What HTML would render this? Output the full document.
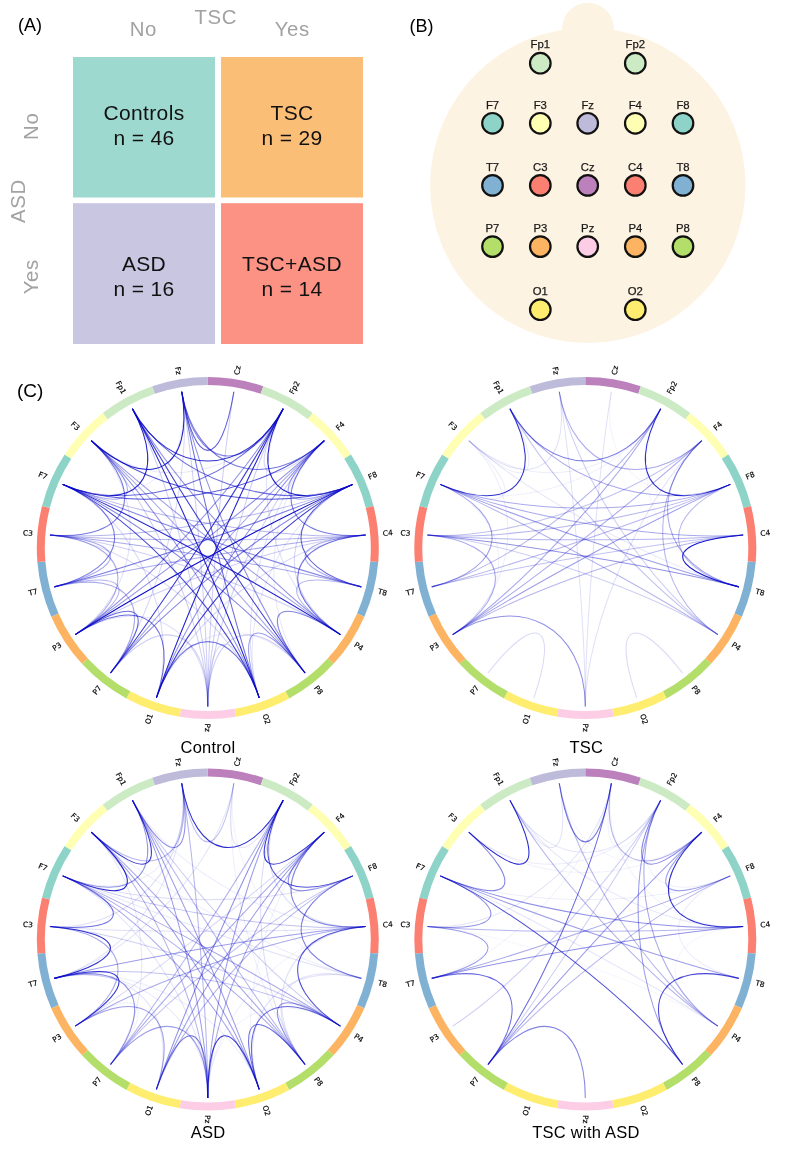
<!DOCTYPE html>
<html><head><meta charset="utf-8"><title>Figure</title>
<style>
html,body{margin:0;padding:0;background:#fff;}
svg{display:block;}
.sans{font-family:"Liberation Sans",Arial,Helvetica,sans-serif;}
.lab text{font-family:"DejaVu Sans","Liberation Sans",sans-serif;font-size:7.4px;fill:#000;stroke:#000;stroke-width:0.18px;}
.ch path{fill:none;stroke:#0a0ac8;stroke-width:1.05;}
.el text{font-family:"Liberation Sans",sans-serif;font-size:11.3px;fill:#1a1a1a;stroke:#1a1a1a;stroke-width:0.25px;text-anchor:middle;}
.el circle{stroke:#111;stroke-width:2.2;}
</style></head><body>
<svg width="785" height="1151" viewBox="0 0 785 1151">
<rect width="785" height="1151" fill="#fff"/>
<g class="sans">
<text x="18" y="31" font-size="18" fill="#000">(A)</text>
<g font-size="20.4" fill="#a2a2a2" text-anchor="middle" letter-spacing="0.6">
<text x="143.4" y="36.4">No</text>
<text x="215.7" y="23.8">TSC</text>
<text x="292.2" y="36.4">Yes</text>
<text transform="translate(37.7 126.3) rotate(-90)">No</text>
<text transform="translate(24.5 201.1) rotate(-90)">ASD</text>
<text transform="translate(37.7 276.8) rotate(-90)">Yes</text>
</g>
<rect x="73" y="57" width="142" height="140.5" fill="#9ed9cf"/>
<rect x="221" y="57" width="142" height="140.5" fill="#fbbe76"/>
<rect x="73" y="203.2" width="142" height="140.8" fill="#c9c6e1"/>
<rect x="221" y="203.2" width="142" height="140.8" fill="#fc9284"/>
<g font-size="21" fill="#111" text-anchor="middle" letter-spacing="0.35">
<text x="144" y="119.8">Controls</text><text x="144" y="144.7">n = 46</text>
<text x="292" y="119.8">TSC</text><text x="292" y="144.7">n = 29</text>
<text x="144" y="271.2">ASD</text><text x="144" y="296.1">n = 16</text>
<text x="292" y="271.2">TSC+ASD</text><text x="292" y="296.1">n = 14</text>
</g>
</g>
<text class="sans" x="409.5" y="31.7" font-size="18" fill="#000">(B)</text>
<g fill="#fdf3e2"><circle cx="588" cy="28.5" r="25.8"/><circle cx="587.8" cy="185.3" r="157.7"/></g>
<g class="el">
<circle cx="540.3" cy="63.2" r="10.3" fill="#ccebc5"/><text x="540.3" y="48.4">Fp1</text>
<circle cx="635.3" cy="63.2" r="10.3" fill="#ccebc5"/><text x="635.3" y="48.4">Fp2</text>
<circle cx="492.5" cy="123.3" r="10.3" fill="#8dd3c7"/><text x="492.5" y="108.5">F7</text>
<circle cx="540.3" cy="123.3" r="10.3" fill="#ffffb3"/><text x="540.3" y="108.5">F3</text>
<circle cx="587.7" cy="123.3" r="10.3" fill="#bebada"/><text x="587.7" y="108.5">Fz</text>
<circle cx="635.3" cy="123.3" r="10.3" fill="#ffffb3"/><text x="635.3" y="108.5">F4</text>
<circle cx="683" cy="123.3" r="10.3" fill="#8dd3c7"/><text x="683" y="108.5">F8</text>
<circle cx="492.5" cy="185.4" r="10.3" fill="#80b1d3"/><text x="492.5" y="170.6">T7</text>
<circle cx="540.3" cy="185.4" r="10.3" fill="#fb8072"/><text x="540.3" y="170.6">C3</text>
<circle cx="587.7" cy="185.4" r="10.3" fill="#bc80bd"/><text x="587.7" y="170.6">Cz</text>
<circle cx="635.3" cy="185.4" r="10.3" fill="#fb8072"/><text x="635.3" y="170.6">C4</text>
<circle cx="683" cy="185.4" r="10.3" fill="#80b1d3"/><text x="683" y="170.6">T8</text>
<circle cx="492.5" cy="246.6" r="10.3" fill="#b3de69"/><text x="492.5" y="231.8">P7</text>
<circle cx="540.3" cy="246.6" r="10.3" fill="#fdb462"/><text x="540.3" y="231.8">P3</text>
<circle cx="587.7" cy="246.6" r="10.3" fill="#fccde5"/><text x="587.7" y="231.8">Pz</text>
<circle cx="635.3" cy="246.6" r="10.3" fill="#fdb462"/><text x="635.3" y="231.8">P4</text>
<circle cx="683" cy="246.6" r="10.3" fill="#b3de69"/><text x="683" y="231.8">P8</text>
<circle cx="540.3" cy="309.7" r="10.3" fill="#ffed6f"/><text x="540.3" y="294.9">O1</text>
<circle cx="635.3" cy="309.7" r="10.3" fill="#ffed6f"/><text x="635.3" y="294.9">O2</text>
</g>
<text class="sans" x="17" y="397.3" font-size="19" fill="#000">(C)</text>
<g class="ch">
<path d="M156.37 697.82C182.08 622.91 256.45 610.5 305.09 673" stroke-opacity="0.07"/>
<path d="M62.74 484.37C135.27 516.19 194.76 469.88 181.73 391.76" stroke-opacity="0.08"/>
<path d="M91.26 440.72C149.53 494.36 245.5 478.35 283.19 408.69" stroke-opacity="0.09"/>
<path d="M324.34 440.72C266.07 494.36 256.45 610.5 305.09 673" stroke-opacity="0.09"/>
<path d="M352.86 484.37C280.33 516.19 233.52 622.91 259.23 697.82" stroke-opacity="0.1"/>
<path d="M283.19 408.69C245.5 478.35 274.1 591.32 340.41 634.64" stroke-opacity="0.12"/>
<path d="M324.34 440.72C266.07 494.36 233.52 622.91 259.23 697.82" stroke-opacity="0.12"/>
<path d="M259.23 697.82C233.52 622.91 207.8 627.2 207.8 706.4" stroke-opacity="0.12"/>
<path d="M75.19 634.64C141.5 591.32 207.8 627.2 207.8 706.4" stroke-opacity="0.12"/>
<path d="M91.26 440.72C149.53 494.36 141.5 591.32 75.19 634.64" stroke-opacity="0.12"/>
<path d="M62.74 484.37C135.27 516.19 182.08 622.91 156.37 697.82" stroke-opacity="0.15"/>
<path d="M49.94 534.92C128.87 541.46 233.52 622.91 259.23 697.82" stroke-opacity="0.15"/>
<path d="M365.66 534.92C286.73 541.46 182.08 622.91 156.37 697.82" stroke-opacity="0.15"/>
<path d="M181.73 391.76C194.76 469.88 159.15 610.5 110.51 673" stroke-opacity="0.16"/>
<path d="M324.34 440.72C266.07 494.36 245.5 478.35 283.19 408.69" stroke-opacity="0.17"/>
<path d="M352.86 484.37C280.33 516.19 274.1 591.32 340.41 634.64" stroke-opacity="0.18"/>
<path d="M110.51 673C159.15 610.5 207.8 627.2 207.8 706.4" stroke-opacity="0.2"/>
<path d="M305.09 673C256.45 610.5 207.8 627.2 207.8 706.4" stroke-opacity="0.2"/>
<path d="M365.66 534.92C286.73 541.46 141.5 591.32 75.19 634.64" stroke-opacity="0.2"/>
<path d="M49.94 534.92C128.87 541.46 274.1 591.32 340.41 634.64" stroke-opacity="0.2"/>
<path d="M132.41 408.69C170.1 478.35 207.8 627.2 207.8 706.4" stroke-opacity="0.2"/>
<path d="M283.19 408.69C245.5 478.35 207.8 627.2 207.8 706.4" stroke-opacity="0.2"/>
<path d="M91.26 440.72C149.53 494.36 207.8 627.2 207.8 706.4" stroke-opacity="0.2"/>
<path d="M324.34 440.72C266.07 494.36 207.8 627.2 207.8 706.4" stroke-opacity="0.2"/>
<path d="M181.73 391.76C194.76 469.88 207.8 627.2 207.8 706.4" stroke-opacity="0.2"/>
<path d="M233.87 391.76C220.84 469.88 207.8 627.2 207.8 706.4" stroke-opacity="0.2"/>
<path d="M340.41 634.64C274.1 591.32 284.58 567.44 361.35 586.88" stroke-opacity="0.3"/>
<path d="M75.19 634.64C141.5 591.32 131.02 567.44 54.25 586.88" stroke-opacity="0.3"/>
<path d="M49.94 534.92C128.87 541.46 280.33 516.19 352.86 484.37" stroke-opacity="0.3"/>
<path d="M365.66 534.92C286.73 541.46 135.27 516.19 62.74 484.37" stroke-opacity="0.3"/>
<path d="M49.94 534.92C128.87 541.46 286.73 541.46 365.66 534.92" stroke-opacity="0.3"/>
<path d="M49.94 534.92C128.87 541.46 141.5 591.32 75.19 634.64" stroke-opacity="0.35"/>
<path d="M110.51 673C159.15 610.5 131.02 567.44 54.25 586.88" stroke-opacity="0.35"/>
<path d="M324.34 440.72C266.07 494.36 280.33 516.19 352.86 484.37" stroke-opacity="0.35"/>
<path d="M91.26 440.72C149.53 494.36 135.27 516.19 62.74 484.37" stroke-opacity="0.35"/>
<path d="M365.66 534.92C286.73 541.46 284.58 567.44 361.35 586.88" stroke-opacity="0.35"/>
<path d="M49.94 534.92C128.87 541.46 131.02 567.44 54.25 586.88" stroke-opacity="0.35"/>
<path d="M324.34 440.72C266.07 494.36 159.15 610.5 110.51 673" stroke-opacity="0.35"/>
<path d="M91.26 440.72C149.53 494.36 256.45 610.5 305.09 673" stroke-opacity="0.35"/>
<path d="M365.66 534.92C286.73 541.46 131.02 567.44 54.25 586.88" stroke-opacity="0.35"/>
<path d="M49.94 534.92C128.87 541.46 284.58 567.44 361.35 586.88" stroke-opacity="0.35"/>
<path d="M259.23 697.82C233.52 622.91 256.45 610.5 305.09 673" stroke-opacity="0.4"/>
<path d="M91.26 440.72C149.53 494.36 274.1 591.32 340.41 634.64" stroke-opacity="0.4"/>
<path d="M324.34 440.72C266.07 494.36 141.5 591.32 75.19 634.64" stroke-opacity="0.45"/>
<path d="M324.34 440.72C266.07 494.36 182.08 622.91 156.37 697.82" stroke-opacity="0.45"/>
<path d="M283.19 408.69C245.5 478.35 141.5 591.32 75.19 634.64" stroke-opacity="0.45"/>
<path d="M91.26 440.72C149.53 494.36 233.52 622.91 259.23 697.82" stroke-opacity="0.45"/>
<path d="M132.41 408.69C170.1 478.35 274.1 591.32 340.41 634.64" stroke-opacity="0.45"/>
<path d="M181.73 391.76C194.76 469.88 256.45 610.5 305.09 673" stroke-opacity="0.45"/>
<path d="M283.19 408.69C245.5 478.35 194.76 469.88 181.73 391.76" stroke-opacity="0.5"/>
<path d="M340.41 634.64C274.1 591.32 256.45 610.5 305.09 673" stroke-opacity="0.5"/>
<path d="M62.74 484.37C135.27 516.19 284.58 567.44 361.35 586.88" stroke-opacity="0.5"/>
<path d="M352.86 484.37C280.33 516.19 159.15 610.5 110.51 673" stroke-opacity="0.5"/>
<path d="M62.74 484.37C135.27 516.19 256.45 610.5 305.09 673" stroke-opacity="0.5"/>
<path d="M324.34 440.72C266.07 494.36 194.76 469.88 181.73 391.76" stroke-opacity="0.55"/>
<path d="M365.66 534.92C286.73 541.46 266.07 494.36 324.34 440.72" stroke-opacity="0.55"/>
<path d="M365.66 534.92C286.73 541.46 274.1 591.32 340.41 634.64" stroke-opacity="0.55"/>
<path d="M156.37 697.82C182.08 622.91 233.52 622.91 259.23 697.82" stroke-opacity="0.55"/>
<path d="M49.94 534.92C128.87 541.46 149.53 494.36 91.26 440.72" stroke-opacity="0.55"/>
<path d="M62.74 484.37C135.27 516.19 131.02 567.44 54.25 586.88" stroke-opacity="0.55"/>
<path d="M352.86 484.37C280.33 516.19 131.02 567.44 54.25 586.88" stroke-opacity="0.55"/>
<path d="M75.19 634.64C141.5 591.32 159.15 610.5 110.51 673" stroke-opacity="0.6"/>
<path d="M156.37 697.82C182.08 622.91 141.5 591.32 75.19 634.64" stroke-opacity="0.6"/>
<path d="M181.73 391.76C194.76 469.88 233.52 622.91 259.23 697.82" stroke-opacity="0.6"/>
<path d="M352.86 484.37C280.33 516.19 170.1 478.35 132.41 408.69" stroke-opacity="0.6"/>
<path d="M62.74 484.37C135.27 516.19 245.5 478.35 283.19 408.69" stroke-opacity="0.6"/>
<path d="M233.87 391.76C220.84 469.88 194.76 469.88 181.73 391.76" stroke-opacity="0.65"/>
<path d="M352.86 484.37C280.33 516.19 284.58 567.44 361.35 586.88" stroke-opacity="0.65"/>
<path d="M324.34 440.72C266.07 494.36 135.27 516.19 62.74 484.37" stroke-opacity="0.7"/>
<path d="M91.26 440.72C149.53 494.36 280.33 516.19 352.86 484.37" stroke-opacity="0.7"/>
<path d="M62.74 484.37C135.27 516.19 233.52 622.91 259.23 697.82" stroke-opacity="0.75"/>
<path d="M352.86 484.37C280.33 516.19 182.08 622.91 156.37 697.82" stroke-opacity="0.8"/>
<path d="M283.19 408.69C245.5 478.35 159.15 610.5 110.51 673" stroke-opacity="0.8"/>
<path d="M132.41 408.69C170.1 478.35 256.45 610.5 305.09 673" stroke-opacity="0.8"/>
<path d="M132.41 408.69C170.1 478.35 245.5 478.35 283.19 408.69" stroke-opacity="0.85"/>
<path d="M91.26 440.72C149.53 494.36 194.76 469.88 181.73 391.76" stroke-opacity="0.9"/>
<path d="M62.74 484.37C135.27 516.19 170.1 478.35 132.41 408.69" stroke-opacity="0.9"/>
<path d="M352.86 484.37C280.33 516.19 245.5 478.35 283.19 408.69" stroke-opacity="0.9"/>
<path d="M283.19 408.69C245.5 478.35 182.08 622.91 156.37 697.82" stroke-opacity="0.9"/>
<path d="M62.74 484.37C135.27 516.19 274.1 591.32 340.41 634.64" stroke-opacity="0.9"/>
<path d="M132.41 408.69C170.1 478.35 233.52 622.91 259.23 697.82" stroke-opacity="0.9"/>
<path d="M352.86 484.37C280.33 516.19 141.5 591.32 75.19 634.64" stroke-opacity="1"/>
</g>
<g>
<path d="M207.8 381A167 167 0 0 1 262.02 390.05" stroke="#bc80bd" stroke-width="8" fill="none"/>
<path d="M262.02 390.05A167 167 0 0 1 310.37 416.21" stroke="#ccebc5" stroke-width="8" fill="none"/>
<path d="M310.37 416.21A167 167 0 0 1 347.61 456.66" stroke="#ffffb3" stroke-width="8" fill="none"/>
<path d="M347.61 456.66A167 167 0 0 1 369.69 507" stroke="#8dd3c7" stroke-width="8" fill="none"/>
<path d="M369.69 507A167 167 0 0 1 374.23 561.79" stroke="#fb8072" stroke-width="8" fill="none"/>
<path d="M374.23 561.79A167 167 0 0 1 360.73 615.08" stroke="#80b1d3" stroke-width="8" fill="none"/>
<path d="M360.73 615.08A167 167 0 0 1 330.67 661.11" stroke="#fdb462" stroke-width="8" fill="none"/>
<path d="M330.67 661.11A167 167 0 0 1 287.28 694.87" stroke="#b3de69" stroke-width="8" fill="none"/>
<path d="M287.28 694.87A167 167 0 0 1 235.29 712.72" stroke="#ffed6f" stroke-width="8" fill="none"/>
<path d="M235.29 712.72A167 167 0 0 1 180.31 712.72" stroke="#fccde5" stroke-width="8" fill="none"/>
<path d="M180.31 712.72A167 167 0 0 1 128.32 694.87" stroke="#ffed6f" stroke-width="8" fill="none"/>
<path d="M128.32 694.87A167 167 0 0 1 84.93 661.11" stroke="#b3de69" stroke-width="8" fill="none"/>
<path d="M84.93 661.11A167 167 0 0 1 54.87 615.08" stroke="#fdb462" stroke-width="8" fill="none"/>
<path d="M54.87 615.08A167 167 0 0 1 41.37 561.79" stroke="#80b1d3" stroke-width="8" fill="none"/>
<path d="M41.37 561.79A167 167 0 0 1 45.91 507" stroke="#fb8072" stroke-width="8" fill="none"/>
<path d="M45.91 507A167 167 0 0 1 67.99 456.66" stroke="#8dd3c7" stroke-width="8" fill="none"/>
<path d="M67.99 456.66A167 167 0 0 1 105.23 416.21" stroke="#ffffb3" stroke-width="8" fill="none"/>
<path d="M105.23 416.21A167 167 0 0 1 153.58 390.05" stroke="#ccebc5" stroke-width="8" fill="none"/>
<path d="M153.58 390.05A167 167 0 0 1 207.8 381" stroke="#bebada" stroke-width="8" fill="none"/>
</g>
<g class="lab">
<text x="236.7" y="374.79" transform="rotate(-80.53 236.7 374.79)" text-anchor="start" dominant-baseline="central">Cz</text>
<text x="291.38" y="393.56" transform="rotate(-61.58 291.38 393.56)" text-anchor="start" dominant-baseline="central">Fp2</text>
<text x="336.99" y="429.07" transform="rotate(-42.63 336.99 429.07)" text-anchor="start" dominant-baseline="central">F4</text>
<text x="368.61" y="477.46" transform="rotate(-23.68 368.61 477.46)" text-anchor="start" dominant-baseline="central">F8</text>
<text x="382.8" y="533.5" transform="rotate(-4.74 382.8 533.5)" text-anchor="start" dominant-baseline="central">C4</text>
<text x="378.03" y="591.11" transform="rotate(14.21 378.03 591.11)" text-anchor="start" dominant-baseline="central">T8</text>
<text x="354.81" y="644.04" transform="rotate(33.16 354.81 644.04)" text-anchor="start" dominant-baseline="central">P4</text>
<text x="315.66" y="686.57" transform="rotate(52.11 315.66 686.57)" text-anchor="start" dominant-baseline="central">P8</text>
<text x="264.82" y="714.09" transform="rotate(71.05 264.82 714.09)" text-anchor="start" dominant-baseline="central">O2</text>
<text x="207.8" y="723.6" transform="rotate(90 207.8 723.6)" text-anchor="start" dominant-baseline="central">Pz</text>
<text x="150.78" y="714.09" transform="rotate(288.95 150.78 714.09)" text-anchor="end" dominant-baseline="central">O1</text>
<text x="99.94" y="686.57" transform="rotate(307.89 99.94 686.57)" text-anchor="end" dominant-baseline="central">P7</text>
<text x="60.79" y="644.04" transform="rotate(326.84 60.79 644.04)" text-anchor="end" dominant-baseline="central">P3</text>
<text x="37.57" y="591.11" transform="rotate(345.79 37.57 591.11)" text-anchor="end" dominant-baseline="central">T7</text>
<text x="32.8" y="533.5" transform="rotate(364.74 32.8 533.5)" text-anchor="end" dominant-baseline="central">C3</text>
<text x="46.99" y="477.46" transform="rotate(383.68 46.99 477.46)" text-anchor="end" dominant-baseline="central">F7</text>
<text x="78.61" y="429.07" transform="rotate(402.63 78.61 429.07)" text-anchor="end" dominant-baseline="central">F3</text>
<text x="124.22" y="393.56" transform="rotate(421.58 124.22 393.56)" text-anchor="end" dominant-baseline="central">Fp1</text>
<text x="178.9" y="374.79" transform="rotate(440.53 178.9 374.79)" text-anchor="end" dominant-baseline="central">Fz</text>
</g>
<g class="ch">
<path d="M660.69 408.69C623 478.35 662.08 567.44 738.85 586.88" stroke-opacity="0.04"/>
<path d="M611.37 391.76C598.34 469.88 657.83 516.19 730.36 484.37" stroke-opacity="0.05"/>
<path d="M440.24 484.37C512.77 516.19 623 478.35 660.69 408.69" stroke-opacity="0.06"/>
<path d="M440.24 484.37C512.77 516.19 519 591.32 452.69 634.64" stroke-opacity="0.06"/>
<path d="M468.76 440.72C527.03 494.36 623 478.35 660.69 408.69" stroke-opacity="0.07"/>
<path d="M468.76 440.72C527.03 494.36 519 591.32 452.69 634.64" stroke-opacity="0.07"/>
<path d="M468.76 440.72C527.03 494.36 512.77 516.19 440.24 484.37" stroke-opacity="0.07"/>
<path d="M468.76 440.72C527.03 494.36 547.6 478.35 509.91 408.69" stroke-opacity="0.08"/>
<path d="M468.76 440.72C527.03 494.36 662.08 567.44 738.85 586.88" stroke-opacity="0.1"/>
<path d="M468.76 440.72C527.03 494.36 572.26 469.88 559.23 391.76" stroke-opacity="0.12"/>
<path d="M611.37 391.76C598.34 469.88 585.3 627.2 585.3 706.4" stroke-opacity="0.12"/>
<path d="M559.23 391.76C572.26 469.88 585.3 627.2 585.3 706.4" stroke-opacity="0.12"/>
<path d="M701.84 440.72C643.57 494.36 585.3 627.2 585.3 706.4" stroke-opacity="0.12"/>
<path d="M533.87 697.82C559.58 622.91 536.65 610.5 488.01 673" stroke-opacity="0.15"/>
<path d="M636.73 697.82C611.02 622.91 633.95 610.5 682.59 673" stroke-opacity="0.15"/>
<path d="M427.44 534.92C506.37 541.46 651.6 591.32 717.91 634.64" stroke-opacity="0.2"/>
<path d="M559.23 391.76C572.26 469.88 651.6 591.32 717.91 634.64" stroke-opacity="0.2"/>
<path d="M509.91 408.69C547.6 478.35 651.6 591.32 717.91 634.64" stroke-opacity="0.25"/>
<path d="M743.16 534.92C664.23 541.46 508.52 567.44 431.75 586.88" stroke-opacity="0.25"/>
<path d="M427.44 534.92C506.37 541.46 643.57 494.36 701.84 440.72" stroke-opacity="0.25"/>
<path d="M440.24 484.37C512.77 516.19 651.6 591.32 717.91 634.64" stroke-opacity="0.3"/>
<path d="M427.44 534.92C506.37 541.46 657.83 516.19 730.36 484.37" stroke-opacity="0.3"/>
<path d="M730.36 484.37C657.83 516.19 508.52 567.44 431.75 586.88" stroke-opacity="0.3"/>
<path d="M730.36 484.37C657.83 516.19 662.08 567.44 738.85 586.88" stroke-opacity="0.3"/>
<path d="M427.44 534.92C506.37 541.46 664.23 541.46 743.16 534.92" stroke-opacity="0.3"/>
<path d="M743.16 534.92C664.23 541.46 519 591.32 452.69 634.64" stroke-opacity="0.3"/>
<path d="M701.84 440.72C643.57 494.36 651.6 591.32 717.91 634.64" stroke-opacity="0.3"/>
<path d="M660.69 408.69C623 478.35 508.52 567.44 431.75 586.88" stroke-opacity="0.3"/>
<path d="M701.84 440.72C643.57 494.36 572.26 469.88 559.23 391.76" stroke-opacity="0.35"/>
<path d="M730.36 484.37C657.83 516.19 547.6 478.35 509.91 408.69" stroke-opacity="0.35"/>
<path d="M440.24 484.37C512.77 516.19 657.83 516.19 730.36 484.37" stroke-opacity="0.35"/>
<path d="M743.16 534.92C664.23 541.46 512.77 516.19 440.24 484.37" stroke-opacity="0.35"/>
<path d="M427.44 534.92C506.37 541.46 519 591.32 452.69 634.64" stroke-opacity="0.35"/>
<path d="M701.84 440.72C643.57 494.36 519 591.32 452.69 634.64" stroke-opacity="0.35"/>
<path d="M660.69 408.69C623 478.35 519 591.32 452.69 634.64" stroke-opacity="0.35"/>
<path d="M701.84 440.72C643.57 494.36 662.08 567.44 738.85 586.88" stroke-opacity="0.35"/>
<path d="M440.24 484.37C512.77 516.19 662.08 567.44 738.85 586.88" stroke-opacity="0.4"/>
<path d="M440.24 484.37C512.77 516.19 508.52 567.44 431.75 586.88" stroke-opacity="0.4"/>
<path d="M730.36 484.37C657.83 516.19 519 591.32 452.69 634.64" stroke-opacity="0.4"/>
<path d="M427.44 534.92C506.37 541.46 662.08 567.44 738.85 586.88" stroke-opacity="0.45"/>
<path d="M452.69 634.64C519 591.32 585.3 627.2 585.3 706.4" stroke-opacity="0.45"/>
<path d="M509.91 408.69C547.6 478.35 623 478.35 660.69 408.69" stroke-opacity="0.55"/>
<path d="M440.24 484.37C512.77 516.19 547.6 478.35 509.91 408.69" stroke-opacity="0.85"/>
<path d="M730.36 484.37C657.83 516.19 623 478.35 660.69 408.69" stroke-opacity="0.85"/>
<path d="M743.16 534.92C664.23 541.46 662.08 567.44 738.85 586.88" stroke-opacity="0.95"/>
</g>
<g>
<path d="M585.3 381A167 167 0 0 1 639.52 390.05" stroke="#bc80bd" stroke-width="8" fill="none"/>
<path d="M639.52 390.05A167 167 0 0 1 687.87 416.21" stroke="#ccebc5" stroke-width="8" fill="none"/>
<path d="M687.87 416.21A167 167 0 0 1 725.11 456.66" stroke="#ffffb3" stroke-width="8" fill="none"/>
<path d="M725.11 456.66A167 167 0 0 1 747.19 507" stroke="#8dd3c7" stroke-width="8" fill="none"/>
<path d="M747.19 507A167 167 0 0 1 751.73 561.79" stroke="#fb8072" stroke-width="8" fill="none"/>
<path d="M751.73 561.79A167 167 0 0 1 738.23 615.08" stroke="#80b1d3" stroke-width="8" fill="none"/>
<path d="M738.23 615.08A167 167 0 0 1 708.17 661.11" stroke="#fdb462" stroke-width="8" fill="none"/>
<path d="M708.17 661.11A167 167 0 0 1 664.78 694.87" stroke="#b3de69" stroke-width="8" fill="none"/>
<path d="M664.78 694.87A167 167 0 0 1 612.79 712.72" stroke="#ffed6f" stroke-width="8" fill="none"/>
<path d="M612.79 712.72A167 167 0 0 1 557.81 712.72" stroke="#fccde5" stroke-width="8" fill="none"/>
<path d="M557.81 712.72A167 167 0 0 1 505.82 694.87" stroke="#ffed6f" stroke-width="8" fill="none"/>
<path d="M505.82 694.87A167 167 0 0 1 462.43 661.11" stroke="#b3de69" stroke-width="8" fill="none"/>
<path d="M462.43 661.11A167 167 0 0 1 432.37 615.08" stroke="#fdb462" stroke-width="8" fill="none"/>
<path d="M432.37 615.08A167 167 0 0 1 418.87 561.79" stroke="#80b1d3" stroke-width="8" fill="none"/>
<path d="M418.87 561.79A167 167 0 0 1 423.41 507" stroke="#fb8072" stroke-width="8" fill="none"/>
<path d="M423.41 507A167 167 0 0 1 445.49 456.66" stroke="#8dd3c7" stroke-width="8" fill="none"/>
<path d="M445.49 456.66A167 167 0 0 1 482.73 416.21" stroke="#ffffb3" stroke-width="8" fill="none"/>
<path d="M482.73 416.21A167 167 0 0 1 531.08 390.05" stroke="#ccebc5" stroke-width="8" fill="none"/>
<path d="M531.08 390.05A167 167 0 0 1 585.3 381" stroke="#bebada" stroke-width="8" fill="none"/>
</g>
<g class="lab">
<text x="614.2" y="374.79" transform="rotate(-80.53 614.2 374.79)" text-anchor="start" dominant-baseline="central">Cz</text>
<text x="668.88" y="393.56" transform="rotate(-61.58 668.88 393.56)" text-anchor="start" dominant-baseline="central">Fp2</text>
<text x="714.49" y="429.07" transform="rotate(-42.63 714.49 429.07)" text-anchor="start" dominant-baseline="central">F4</text>
<text x="746.11" y="477.46" transform="rotate(-23.68 746.11 477.46)" text-anchor="start" dominant-baseline="central">F8</text>
<text x="760.3" y="533.5" transform="rotate(-4.74 760.3 533.5)" text-anchor="start" dominant-baseline="central">C4</text>
<text x="755.53" y="591.11" transform="rotate(14.21 755.53 591.11)" text-anchor="start" dominant-baseline="central">T8</text>
<text x="732.31" y="644.04" transform="rotate(33.16 732.31 644.04)" text-anchor="start" dominant-baseline="central">P4</text>
<text x="693.16" y="686.57" transform="rotate(52.11 693.16 686.57)" text-anchor="start" dominant-baseline="central">P8</text>
<text x="642.32" y="714.09" transform="rotate(71.05 642.32 714.09)" text-anchor="start" dominant-baseline="central">O2</text>
<text x="585.3" y="723.6" transform="rotate(90 585.3 723.6)" text-anchor="start" dominant-baseline="central">Pz</text>
<text x="528.28" y="714.09" transform="rotate(288.95 528.28 714.09)" text-anchor="end" dominant-baseline="central">O1</text>
<text x="477.44" y="686.57" transform="rotate(307.89 477.44 686.57)" text-anchor="end" dominant-baseline="central">P7</text>
<text x="438.29" y="644.04" transform="rotate(326.84 438.29 644.04)" text-anchor="end" dominant-baseline="central">P3</text>
<text x="415.07" y="591.11" transform="rotate(345.79 415.07 591.11)" text-anchor="end" dominant-baseline="central">T7</text>
<text x="410.3" y="533.5" transform="rotate(364.74 410.3 533.5)" text-anchor="end" dominant-baseline="central">C3</text>
<text x="424.49" y="477.46" transform="rotate(383.68 424.49 477.46)" text-anchor="end" dominant-baseline="central">F7</text>
<text x="456.11" y="429.07" transform="rotate(402.63 456.11 429.07)" text-anchor="end" dominant-baseline="central">F3</text>
<text x="501.72" y="393.56" transform="rotate(421.58 501.72 393.56)" text-anchor="end" dominant-baseline="central">Fp1</text>
<text x="556.4" y="374.79" transform="rotate(440.53 556.4 374.79)" text-anchor="end" dominant-baseline="central">Fz</text>
</g>
<g class="ch">
<path d="M233.87 783.26C220.84 861.38 284.58 958.94 361.35 978.38" stroke-opacity="0.05"/>
<path d="M340.41 1026.14C274.1 982.82 207.8 1018.7 207.8 1097.9" stroke-opacity="0.05"/>
<path d="M324.34 832.22C266.07 885.86 233.52 1014.41 259.23 1089.32" stroke-opacity="0.06"/>
<path d="M365.66 926.42C286.73 932.96 207.8 1018.7 207.8 1097.9" stroke-opacity="0.06"/>
<path d="M75.19 1026.14C141.5 982.82 159.15 1002 110.51 1064.5" stroke-opacity="0.06"/>
<path d="M233.87 783.26C220.84 861.38 256.45 1002 305.09 1064.5" stroke-opacity="0.07"/>
<path d="M91.26 832.22C149.53 885.86 284.58 958.94 361.35 978.38" stroke-opacity="0.07"/>
<path d="M62.74 875.87C135.27 907.69 194.76 861.38 181.73 783.26" stroke-opacity="0.07"/>
<path d="M365.66 926.42C286.73 932.96 170.1 869.85 132.41 800.19" stroke-opacity="0.08"/>
<path d="M259.23 1089.32C233.52 1014.41 131.02 958.94 54.25 978.38" stroke-opacity="0.08"/>
<path d="M207.8 1097.9C207.8 1018.7 131.02 958.94 54.25 978.38" stroke-opacity="0.09"/>
<path d="M233.87 783.26C220.84 861.38 245.5 869.85 283.19 800.19" stroke-opacity="0.1"/>
<path d="M91.26 832.22C149.53 885.86 159.15 1002 110.51 1064.5" stroke-opacity="0.1"/>
<path d="M233.87 783.26C220.84 861.38 131.02 958.94 54.25 978.38" stroke-opacity="0.11"/>
<path d="M305.09 1064.5C256.45 1002 284.58 958.94 361.35 978.38" stroke-opacity="0.11"/>
<path d="M62.74 875.87C135.27 907.69 284.58 958.94 361.35 978.38" stroke-opacity="0.11"/>
<path d="M62.74 875.87C135.27 907.69 207.8 1018.7 207.8 1097.9" stroke-opacity="0.11"/>
<path d="M156.37 1089.32C182.08 1014.41 131.02 958.94 54.25 978.38" stroke-opacity="0.11"/>
<path d="M181.73 783.26C194.76 861.38 131.02 958.94 54.25 978.38" stroke-opacity="0.11"/>
<path d="M259.23 1089.32C233.52 1014.41 284.58 958.94 361.35 978.38" stroke-opacity="0.12"/>
<path d="M365.66 926.42C286.73 932.96 245.5 869.85 283.19 800.19" stroke-opacity="0.13"/>
<path d="M365.66 926.42C286.73 932.96 256.45 1002 305.09 1064.5" stroke-opacity="0.13"/>
<path d="M49.94 926.42C128.87 932.96 286.73 932.96 365.66 926.42" stroke-opacity="0.13"/>
<path d="M49.94 926.42C128.87 932.96 194.76 861.38 181.73 783.26" stroke-opacity="0.13"/>
<path d="M283.19 800.19C245.5 869.85 256.45 1002 305.09 1064.5" stroke-opacity="0.14"/>
<path d="M62.74 875.87C135.27 907.69 280.33 907.69 352.86 875.87" stroke-opacity="0.14"/>
<path d="M324.34 832.22C266.07 885.86 141.5 982.82 75.19 1026.14" stroke-opacity="0.15"/>
<path d="M49.94 926.42C128.87 932.96 274.1 982.82 340.41 1026.14" stroke-opacity="0.2"/>
<path d="M132.41 800.19C170.1 869.85 274.1 982.82 340.41 1026.14" stroke-opacity="0.2"/>
<path d="M233.87 783.26C220.84 861.38 194.76 861.38 181.73 783.26" stroke-opacity="0.25"/>
<path d="M352.86 875.87C280.33 907.69 159.15 1002 110.51 1064.5" stroke-opacity="0.25"/>
<path d="M340.41 1026.14C274.1 982.82 131.02 958.94 54.25 978.38" stroke-opacity="0.25"/>
<path d="M365.66 926.42C286.73 932.96 135.27 907.69 62.74 875.87" stroke-opacity="0.25"/>
<path d="M91.26 832.22C149.53 885.86 194.76 861.38 181.73 783.26" stroke-opacity="0.3"/>
<path d="M91.26 832.22C149.53 885.86 207.8 1018.7 207.8 1097.9" stroke-opacity="0.3"/>
<path d="M181.73 783.26C194.76 861.38 207.8 1018.7 207.8 1097.9" stroke-opacity="0.3"/>
<path d="M352.86 875.87C280.33 907.69 182.08 1014.41 156.37 1089.32" stroke-opacity="0.3"/>
<path d="M283.19 800.19C245.5 869.85 159.15 1002 110.51 1064.5" stroke-opacity="0.3"/>
<path d="M132.41 800.19C170.1 869.85 256.45 1002 305.09 1064.5" stroke-opacity="0.3"/>
<path d="M49.94 926.42C128.87 932.96 141.5 982.82 75.19 1026.14" stroke-opacity="0.35"/>
<path d="M324.34 832.22C266.07 885.86 207.8 1018.7 207.8 1097.9" stroke-opacity="0.35"/>
<path d="M62.74 875.87C135.27 907.69 233.52 1014.41 259.23 1089.32" stroke-opacity="0.35"/>
<path d="M324.34 832.22C266.07 885.86 159.15 1002 110.51 1064.5" stroke-opacity="0.35"/>
<path d="M91.26 832.22C149.53 885.86 256.45 1002 305.09 1064.5" stroke-opacity="0.35"/>
<path d="M62.74 875.87C135.27 907.69 256.45 1002 305.09 1064.5" stroke-opacity="0.35"/>
<path d="M365.66 926.42C286.73 932.96 141.5 982.82 75.19 1026.14" stroke-opacity="0.35"/>
<path d="M62.74 875.87C135.27 907.69 274.1 982.82 340.41 1026.14" stroke-opacity="0.35"/>
<path d="M110.51 1064.5C159.15 1002 207.8 1018.7 207.8 1097.9" stroke-opacity="0.4"/>
<path d="M156.37 1089.32C182.08 1014.41 141.5 982.82 75.19 1026.14" stroke-opacity="0.4"/>
<path d="M132.41 800.19C170.1 869.85 207.8 1018.7 207.8 1097.9" stroke-opacity="0.4"/>
<path d="M283.19 800.19C245.5 869.85 207.8 1018.7 207.8 1097.9" stroke-opacity="0.4"/>
<path d="M132.41 800.19C170.1 869.85 233.52 1014.41 259.23 1089.32" stroke-opacity="0.4"/>
<path d="M91.26 832.22C149.53 885.86 233.52 1014.41 259.23 1089.32" stroke-opacity="0.4"/>
<path d="M324.34 832.22C266.07 885.86 182.08 1014.41 156.37 1089.32" stroke-opacity="0.4"/>
<path d="M365.66 926.42C286.73 932.96 131.02 958.94 54.25 978.38" stroke-opacity="0.4"/>
<path d="M62.74 875.87C135.27 907.69 170.1 869.85 132.41 800.19" stroke-opacity="0.45"/>
<path d="M132.41 800.19C170.1 869.85 194.76 861.38 181.73 783.26" stroke-opacity="0.45"/>
<path d="M324.34 832.22C266.07 885.86 280.33 907.69 352.86 875.87" stroke-opacity="0.45"/>
<path d="M340.41 1026.14C274.1 982.82 256.45 1002 305.09 1064.5" stroke-opacity="0.45"/>
<path d="M110.51 1064.5C159.15 1002 131.02 958.94 54.25 978.38" stroke-opacity="0.45"/>
<path d="M283.19 800.19C245.5 869.85 182.08 1014.41 156.37 1089.32" stroke-opacity="0.45"/>
<path d="M365.66 926.42C286.73 932.96 266.07 885.86 324.34 832.22" stroke-opacity="0.5"/>
<path d="M352.86 875.87C280.33 907.69 284.58 958.94 361.35 978.38" stroke-opacity="0.55"/>
<path d="M156.37 1089.32C182.08 1014.41 207.8 1018.7 207.8 1097.9" stroke-opacity="0.55"/>
<path d="M259.23 1089.32C233.52 1014.41 274.1 982.82 340.41 1026.14" stroke-opacity="0.6"/>
<path d="M259.23 1089.32C233.52 1014.41 256.45 1002 305.09 1064.5" stroke-opacity="0.6"/>
<path d="M49.94 926.42C128.87 932.96 135.27 907.69 62.74 875.87" stroke-opacity="0.6"/>
<path d="M352.86 875.87C280.33 907.69 245.5 869.85 283.19 800.19" stroke-opacity="0.7"/>
<path d="M365.66 926.42C286.73 932.96 274.1 982.82 340.41 1026.14" stroke-opacity="0.7"/>
<path d="M91.26 832.22C149.53 885.86 170.1 869.85 132.41 800.19" stroke-opacity="0.8"/>
<path d="M324.34 832.22C266.07 885.86 245.5 869.85 283.19 800.19" stroke-opacity="0.8"/>
<path d="M259.23 1089.32C233.52 1014.41 207.8 1018.7 207.8 1097.9" stroke-opacity="0.8"/>
<path d="M283.19 800.19C245.5 869.85 194.76 861.38 181.73 783.26" stroke-opacity="0.85"/>
<path d="M75.19 1026.14C141.5 982.82 131.02 958.94 54.25 978.38" stroke-opacity="0.85"/>
<path d="M49.94 926.42C128.87 932.96 131.02 958.94 54.25 978.38" stroke-opacity="0.85"/>
<path d="M91.26 832.22C149.53 885.86 135.27 907.69 62.74 875.87" stroke-opacity="0.9"/>
</g>
<g>
<path d="M207.8 772.5A167 167 0 0 1 262.02 781.55" stroke="#bc80bd" stroke-width="8" fill="none"/>
<path d="M262.02 781.55A167 167 0 0 1 310.37 807.71" stroke="#ccebc5" stroke-width="8" fill="none"/>
<path d="M310.37 807.71A167 167 0 0 1 347.61 848.16" stroke="#ffffb3" stroke-width="8" fill="none"/>
<path d="M347.61 848.16A167 167 0 0 1 369.69 898.5" stroke="#8dd3c7" stroke-width="8" fill="none"/>
<path d="M369.69 898.5A167 167 0 0 1 374.23 953.29" stroke="#fb8072" stroke-width="8" fill="none"/>
<path d="M374.23 953.29A167 167 0 0 1 360.73 1006.58" stroke="#80b1d3" stroke-width="8" fill="none"/>
<path d="M360.73 1006.58A167 167 0 0 1 330.67 1052.61" stroke="#fdb462" stroke-width="8" fill="none"/>
<path d="M330.67 1052.61A167 167 0 0 1 287.28 1086.37" stroke="#b3de69" stroke-width="8" fill="none"/>
<path d="M287.28 1086.37A167 167 0 0 1 235.29 1104.22" stroke="#ffed6f" stroke-width="8" fill="none"/>
<path d="M235.29 1104.22A167 167 0 0 1 180.31 1104.22" stroke="#fccde5" stroke-width="8" fill="none"/>
<path d="M180.31 1104.22A167 167 0 0 1 128.32 1086.37" stroke="#ffed6f" stroke-width="8" fill="none"/>
<path d="M128.32 1086.37A167 167 0 0 1 84.93 1052.61" stroke="#b3de69" stroke-width="8" fill="none"/>
<path d="M84.93 1052.61A167 167 0 0 1 54.87 1006.58" stroke="#fdb462" stroke-width="8" fill="none"/>
<path d="M54.87 1006.58A167 167 0 0 1 41.37 953.29" stroke="#80b1d3" stroke-width="8" fill="none"/>
<path d="M41.37 953.29A167 167 0 0 1 45.91 898.5" stroke="#fb8072" stroke-width="8" fill="none"/>
<path d="M45.91 898.5A167 167 0 0 1 67.99 848.16" stroke="#8dd3c7" stroke-width="8" fill="none"/>
<path d="M67.99 848.16A167 167 0 0 1 105.23 807.71" stroke="#ffffb3" stroke-width="8" fill="none"/>
<path d="M105.23 807.71A167 167 0 0 1 153.58 781.55" stroke="#ccebc5" stroke-width="8" fill="none"/>
<path d="M153.58 781.55A167 167 0 0 1 207.8 772.5" stroke="#bebada" stroke-width="8" fill="none"/>
</g>
<g class="lab">
<text x="236.7" y="766.29" transform="rotate(-80.53 236.7 766.29)" text-anchor="start" dominant-baseline="central">Cz</text>
<text x="291.38" y="785.06" transform="rotate(-61.58 291.38 785.06)" text-anchor="start" dominant-baseline="central">Fp2</text>
<text x="336.99" y="820.57" transform="rotate(-42.63 336.99 820.57)" text-anchor="start" dominant-baseline="central">F4</text>
<text x="368.61" y="868.96" transform="rotate(-23.68 368.61 868.96)" text-anchor="start" dominant-baseline="central">F8</text>
<text x="382.8" y="925" transform="rotate(-4.74 382.8 925)" text-anchor="start" dominant-baseline="central">C4</text>
<text x="378.03" y="982.61" transform="rotate(14.21 378.03 982.61)" text-anchor="start" dominant-baseline="central">T8</text>
<text x="354.81" y="1035.54" transform="rotate(33.16 354.81 1035.54)" text-anchor="start" dominant-baseline="central">P4</text>
<text x="315.66" y="1078.07" transform="rotate(52.11 315.66 1078.07)" text-anchor="start" dominant-baseline="central">P8</text>
<text x="264.82" y="1105.59" transform="rotate(71.05 264.82 1105.59)" text-anchor="start" dominant-baseline="central">O2</text>
<text x="207.8" y="1115.1" transform="rotate(90 207.8 1115.1)" text-anchor="start" dominant-baseline="central">Pz</text>
<text x="150.78" y="1105.59" transform="rotate(288.95 150.78 1105.59)" text-anchor="end" dominant-baseline="central">O1</text>
<text x="99.94" y="1078.07" transform="rotate(307.89 99.94 1078.07)" text-anchor="end" dominant-baseline="central">P7</text>
<text x="60.79" y="1035.54" transform="rotate(326.84 60.79 1035.54)" text-anchor="end" dominant-baseline="central">P3</text>
<text x="37.57" y="982.61" transform="rotate(345.79 37.57 982.61)" text-anchor="end" dominant-baseline="central">T7</text>
<text x="32.8" y="925" transform="rotate(364.74 32.8 925)" text-anchor="end" dominant-baseline="central">C3</text>
<text x="46.99" y="868.96" transform="rotate(383.68 46.99 868.96)" text-anchor="end" dominant-baseline="central">F7</text>
<text x="78.61" y="820.57" transform="rotate(402.63 78.61 820.57)" text-anchor="end" dominant-baseline="central">F3</text>
<text x="124.22" y="785.06" transform="rotate(421.58 124.22 785.06)" text-anchor="end" dominant-baseline="central">Fp1</text>
<text x="178.9" y="766.29" transform="rotate(440.53 178.9 766.29)" text-anchor="end" dominant-baseline="central">Fz</text>
</g>
<g class="ch">
<path d="M701.84 832.22C643.57 885.86 572.26 861.38 559.23 783.26" stroke-opacity="0.04"/>
<path d="M743.16 926.42C664.23 932.96 651.6 982.82 717.91 1026.14" stroke-opacity="0.04"/>
<path d="M427.44 926.42C506.37 932.96 651.6 982.82 717.91 1026.14" stroke-opacity="0.04"/>
<path d="M611.37 783.26C598.34 861.38 623 869.85 660.69 800.19" stroke-opacity="0.05"/>
<path d="M743.16 926.42C664.23 932.96 598.34 861.38 611.37 783.26" stroke-opacity="0.05"/>
<path d="M611.37 783.26C598.34 861.38 508.52 958.94 431.75 978.38" stroke-opacity="0.05"/>
<path d="M730.36 875.87C657.83 907.69 623 869.85 660.69 800.19" stroke-opacity="0.06"/>
<path d="M468.76 832.22C527.03 885.86 643.57 885.86 701.84 832.22" stroke-opacity="0.06"/>
<path d="M440.24 875.87C512.77 907.69 657.83 907.69 730.36 875.87" stroke-opacity="0.07"/>
<path d="M468.76 832.22C527.03 885.86 623 869.85 660.69 800.19" stroke-opacity="0.08"/>
<path d="M730.36 875.87C657.83 907.69 662.08 958.94 738.85 978.38" stroke-opacity="0.08"/>
<path d="M743.16 926.42C664.23 932.96 547.6 869.85 509.91 800.19" stroke-opacity="0.1"/>
<path d="M440.24 875.87C512.77 907.69 651.6 982.82 717.91 1026.14" stroke-opacity="0.1"/>
<path d="M427.44 926.42C506.37 932.96 598.34 861.38 611.37 783.26" stroke-opacity="0.11"/>
<path d="M509.91 800.19C547.6 869.85 623 869.85 660.69 800.19" stroke-opacity="0.11"/>
<path d="M509.91 800.19C547.6 869.85 572.26 861.38 559.23 783.26" stroke-opacity="0.11"/>
<path d="M660.69 800.19C623 869.85 536.65 1002 488.01 1064.5" stroke-opacity="0.2"/>
<path d="M660.69 800.19C623 869.85 519 982.82 452.69 1026.14" stroke-opacity="0.2"/>
<path d="M427.44 926.42C506.37 932.96 664.23 932.96 743.16 926.42" stroke-opacity="0.3"/>
<path d="M730.36 875.87C657.83 907.69 536.65 1002 488.01 1064.5" stroke-opacity="0.3"/>
<path d="M509.91 800.19C547.6 869.85 651.6 982.82 717.91 1026.14" stroke-opacity="0.3"/>
<path d="M559.23 783.26C572.26 861.38 651.6 982.82 717.91 1026.14" stroke-opacity="0.3"/>
<path d="M611.37 783.26C598.34 861.38 643.57 885.86 701.84 832.22" stroke-opacity="0.3"/>
<path d="M730.36 875.87C657.83 907.69 508.52 958.94 431.75 978.38" stroke-opacity="0.35"/>
<path d="M660.69 800.19C623 869.85 651.6 982.82 717.91 1026.14" stroke-opacity="0.35"/>
<path d="M701.84 832.22C643.57 885.86 657.83 907.69 730.36 875.87" stroke-opacity="0.4"/>
<path d="M440.24 875.87C512.77 907.69 662.08 958.94 738.85 978.38" stroke-opacity="0.4"/>
<path d="M427.44 926.42C506.37 932.96 508.52 958.94 431.75 978.38" stroke-opacity="0.4"/>
<path d="M701.84 832.22C643.57 885.86 536.65 1002 488.01 1064.5" stroke-opacity="0.4"/>
<path d="M660.69 800.19C623 869.85 633.95 1002 682.59 1064.5" stroke-opacity="0.4"/>
<path d="M743.16 926.42C664.23 932.96 512.77 907.69 440.24 875.87" stroke-opacity="0.45"/>
<path d="M743.16 926.42C664.23 932.96 508.52 958.94 431.75 978.38" stroke-opacity="0.45"/>
<path d="M427.44 926.42C506.37 932.96 512.77 907.69 440.24 875.87" stroke-opacity="0.45"/>
<path d="M468.76 832.22C527.03 885.86 512.77 907.69 440.24 875.87" stroke-opacity="0.5"/>
<path d="M701.84 832.22C643.57 885.86 623 869.85 660.69 800.19" stroke-opacity="0.5"/>
<path d="M488.01 1064.5C536.65 1002 585.3 1018.7 585.3 1097.9" stroke-opacity="0.5"/>
<path d="M611.37 783.26C598.34 861.38 572.26 861.38 559.23 783.26" stroke-opacity="0.55"/>
<path d="M611.37 783.26C598.34 861.38 536.65 1002 488.01 1064.5" stroke-opacity="0.6"/>
<path d="M488.01 1064.5C536.65 1002 508.52 958.94 431.75 978.38" stroke-opacity="0.6"/>
<path d="M440.24 875.87C512.77 907.69 633.95 1002 682.59 1064.5" stroke-opacity="0.7"/>
<path d="M682.59 1064.5C633.95 1002 662.08 958.94 738.85 978.38" stroke-opacity="0.75"/>
<path d="M743.16 926.42C664.23 932.96 643.57 885.86 701.84 832.22" stroke-opacity="0.85"/>
<path d="M468.76 832.22C527.03 885.86 547.6 869.85 509.91 800.19" stroke-opacity="0.9"/>
</g>
<g>
<path d="M585.3 772.5A167 167 0 0 1 639.52 781.55" stroke="#bc80bd" stroke-width="8" fill="none"/>
<path d="M639.52 781.55A167 167 0 0 1 687.87 807.71" stroke="#ccebc5" stroke-width="8" fill="none"/>
<path d="M687.87 807.71A167 167 0 0 1 725.11 848.16" stroke="#ffffb3" stroke-width="8" fill="none"/>
<path d="M725.11 848.16A167 167 0 0 1 747.19 898.5" stroke="#8dd3c7" stroke-width="8" fill="none"/>
<path d="M747.19 898.5A167 167 0 0 1 751.73 953.29" stroke="#fb8072" stroke-width="8" fill="none"/>
<path d="M751.73 953.29A167 167 0 0 1 738.23 1006.58" stroke="#80b1d3" stroke-width="8" fill="none"/>
<path d="M738.23 1006.58A167 167 0 0 1 708.17 1052.61" stroke="#fdb462" stroke-width="8" fill="none"/>
<path d="M708.17 1052.61A167 167 0 0 1 664.78 1086.37" stroke="#b3de69" stroke-width="8" fill="none"/>
<path d="M664.78 1086.37A167 167 0 0 1 612.79 1104.22" stroke="#ffed6f" stroke-width="8" fill="none"/>
<path d="M612.79 1104.22A167 167 0 0 1 557.81 1104.22" stroke="#fccde5" stroke-width="8" fill="none"/>
<path d="M557.81 1104.22A167 167 0 0 1 505.82 1086.37" stroke="#ffed6f" stroke-width="8" fill="none"/>
<path d="M505.82 1086.37A167 167 0 0 1 462.43 1052.61" stroke="#b3de69" stroke-width="8" fill="none"/>
<path d="M462.43 1052.61A167 167 0 0 1 432.37 1006.58" stroke="#fdb462" stroke-width="8" fill="none"/>
<path d="M432.37 1006.58A167 167 0 0 1 418.87 953.29" stroke="#80b1d3" stroke-width="8" fill="none"/>
<path d="M418.87 953.29A167 167 0 0 1 423.41 898.5" stroke="#fb8072" stroke-width="8" fill="none"/>
<path d="M423.41 898.5A167 167 0 0 1 445.49 848.16" stroke="#8dd3c7" stroke-width="8" fill="none"/>
<path d="M445.49 848.16A167 167 0 0 1 482.73 807.71" stroke="#ffffb3" stroke-width="8" fill="none"/>
<path d="M482.73 807.71A167 167 0 0 1 531.08 781.55" stroke="#ccebc5" stroke-width="8" fill="none"/>
<path d="M531.08 781.55A167 167 0 0 1 585.3 772.5" stroke="#bebada" stroke-width="8" fill="none"/>
</g>
<g class="lab">
<text x="614.2" y="766.29" transform="rotate(-80.53 614.2 766.29)" text-anchor="start" dominant-baseline="central">Cz</text>
<text x="668.88" y="785.06" transform="rotate(-61.58 668.88 785.06)" text-anchor="start" dominant-baseline="central">Fp2</text>
<text x="714.49" y="820.57" transform="rotate(-42.63 714.49 820.57)" text-anchor="start" dominant-baseline="central">F4</text>
<text x="746.11" y="868.96" transform="rotate(-23.68 746.11 868.96)" text-anchor="start" dominant-baseline="central">F8</text>
<text x="760.3" y="925" transform="rotate(-4.74 760.3 925)" text-anchor="start" dominant-baseline="central">C4</text>
<text x="755.53" y="982.61" transform="rotate(14.21 755.53 982.61)" text-anchor="start" dominant-baseline="central">T8</text>
<text x="732.31" y="1035.54" transform="rotate(33.16 732.31 1035.54)" text-anchor="start" dominant-baseline="central">P4</text>
<text x="693.16" y="1078.07" transform="rotate(52.11 693.16 1078.07)" text-anchor="start" dominant-baseline="central">P8</text>
<text x="642.32" y="1105.59" transform="rotate(71.05 642.32 1105.59)" text-anchor="start" dominant-baseline="central">O2</text>
<text x="585.3" y="1115.1" transform="rotate(90 585.3 1115.1)" text-anchor="start" dominant-baseline="central">Pz</text>
<text x="528.28" y="1105.59" transform="rotate(288.95 528.28 1105.59)" text-anchor="end" dominant-baseline="central">O1</text>
<text x="477.44" y="1078.07" transform="rotate(307.89 477.44 1078.07)" text-anchor="end" dominant-baseline="central">P7</text>
<text x="438.29" y="1035.54" transform="rotate(326.84 438.29 1035.54)" text-anchor="end" dominant-baseline="central">P3</text>
<text x="415.07" y="982.61" transform="rotate(345.79 415.07 982.61)" text-anchor="end" dominant-baseline="central">T7</text>
<text x="410.3" y="925" transform="rotate(364.74 410.3 925)" text-anchor="end" dominant-baseline="central">C3</text>
<text x="424.49" y="868.96" transform="rotate(383.68 424.49 868.96)" text-anchor="end" dominant-baseline="central">F7</text>
<text x="456.11" y="820.57" transform="rotate(402.63 456.11 820.57)" text-anchor="end" dominant-baseline="central">F3</text>
<text x="501.72" y="785.06" transform="rotate(421.58 501.72 785.06)" text-anchor="end" dominant-baseline="central">Fp1</text>
<text x="556.4" y="766.29" transform="rotate(440.53 556.4 766.29)" text-anchor="end" dominant-baseline="central">Fz</text>
</g>
<g class="sans" font-size="16.5" fill="#000" text-anchor="middle" letter-spacing="0.25">
<text x="208" y="753.2">Control</text>
<text x="586.3" y="753.2">TSC</text>
<text x="208" y="1138.2">ASD</text>
<text x="586" y="1138">TSC with ASD</text>
</g>
</svg>
</body></html>
